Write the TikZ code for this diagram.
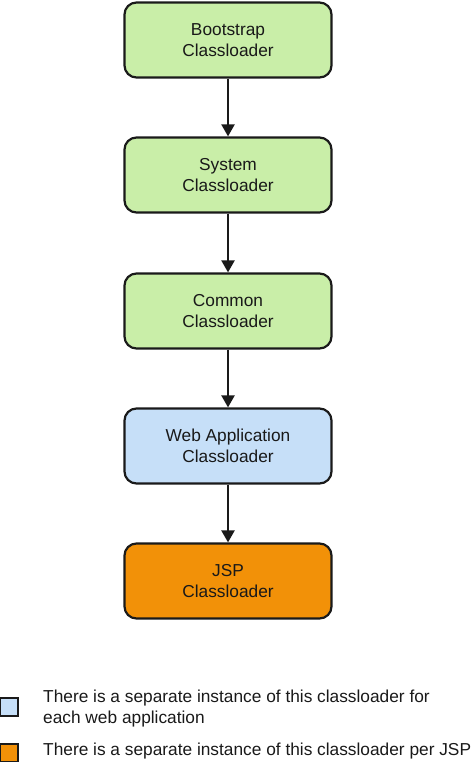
\documentclass[tikz,border=0pt]{standalone}
\usepackage{fontspec}
\setmainfont{Liberation Sans}
\usetikzlibrary{arrows.meta}
\definecolor{loadgreen}{HTML}{C9EEA8}
\definecolor{loadblue}{HTML}{C6DFF8}
\definecolor{loadorange}{HTML}{F29108}
\definecolor{edge}{HTML}{1A1A1A}

\begin{document}
\begin{tikzpicture}[x=1pt, y=-1pt,
  loader/.style={draw=edge, line width=2.2pt, rounded corners=12pt,
    minimum width=207pt, minimum height=75pt, align=center,
    font=\fontsize{17.3}{20.5}\selectfont, text=black!90},
  parent/.style={line width=2.2pt, draw=edge, -{Triangle[width=13pt,length=12pt]}},
  keybox/.style={draw=edge, line width=1.8pt, minimum size=18pt, inner sep=0pt},
  keytext/.style={anchor=west, align=left, inner sep=0pt, font=\fontsize{17.3}{21}\selectfont, text=black!90}]
\useasboundingbox (0,0) rectangle (474,762);
\node[loader, fill=loadgreen] (boot) at (228,40) {Bootstrap\\Classloader};
\node[loader, fill=loadgreen] (sys) at (228,175) {System\\Classloader};
\node[loader, fill=loadgreen] (common) at (228,311) {Common\\Classloader};
\node[loader, fill=loadblue] (webapp) at (228,446) {Web Application\\Classloader};
\node[loader, fill=loadorange] (jsp) at (228,581) {JSP\\Classloader};
\draw[parent] (boot) -- (sys);
\draw[parent] (sys) -- (common);
\draw[parent] (common) -- (webapp);
\draw[parent] (webapp) -- (jsp);
% legend
\node[keybox, fill=loadblue] (keyweb) at (9,707) {};
\node[keybox, fill=loadorange] (keyjsp) at (9,753) {};
\node[keytext] (txtweb) at (43,709) {There is a separate instance of this classloader for\\each web application};
\node[keytext] (txtjsp) at (43,751) {There is a separate instance of this classloader per JSP};
\end{tikzpicture}
\end{document}
